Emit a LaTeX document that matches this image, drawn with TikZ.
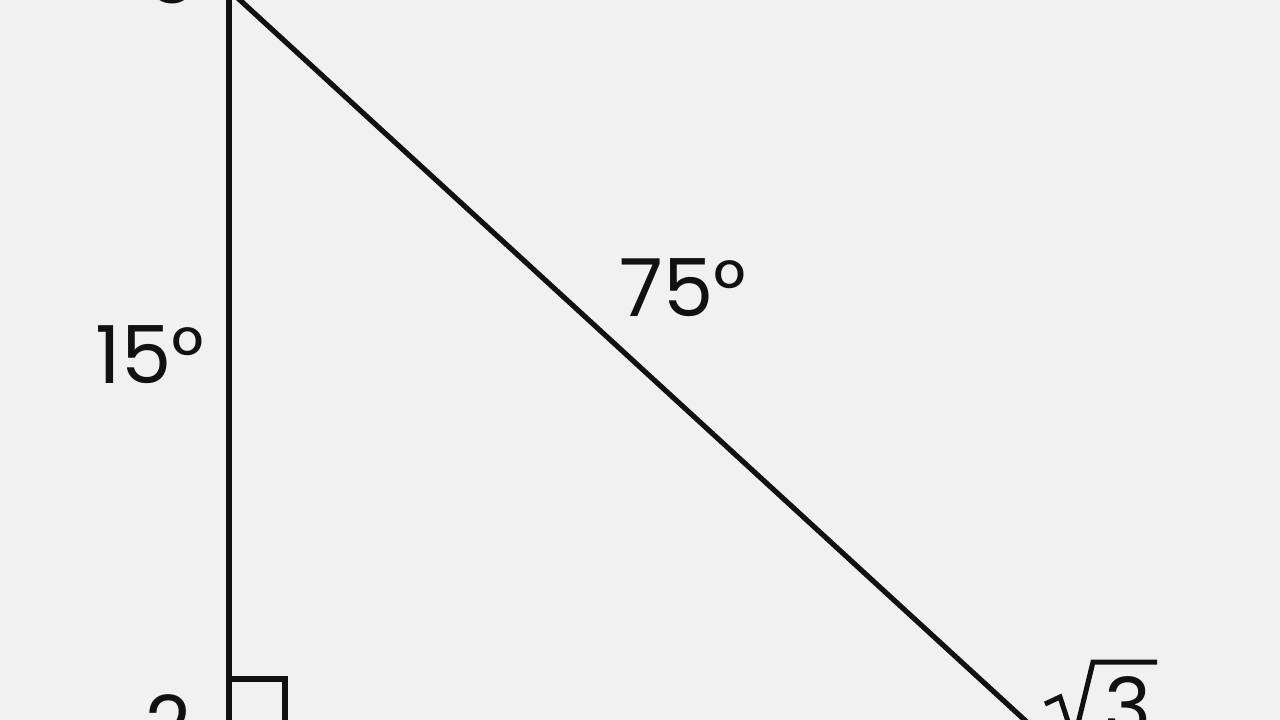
\documentclass[tikz,border=0pt]{standalone}
\usepackage{fontspec}
\setmainfont{Poppins}
\definecolor{bg}{HTML}{F1F1F1}
\definecolor{ink}{HTML}{111111}
\tikzset{
  edge/.style={draw=ink, line width=5.2pt, line cap=butt, line join=miter},
  rad/.style={draw=ink, line width=5pt, line cap=butt, line join=miter},
  lbl/.style={text=ink, font=\fontsize{80}{96}\selectfont, inner sep=0pt},
}
\begin{document}
\begin{tikzpicture}[x=1pt,y=-1pt]
\fill[bg] (0,0) rectangle (1280,720);
\useasboundingbox (0,0) rectangle (1280,720);
\begin{scope}
\clip (0,0) rectangle (1280,720);
\coordinate (A) at (229,-10);
\coordinate (C) at (229,735);
\coordinate (B) at (1041,735);
\draw[edge] (A) -- (C);
\draw[edge] (A) -- (B);
\draw[edge] (229,679) -- (285,679) -- (285,740);
\node[lbl] (ltop) at (172,-26) {3};
\node[lbl] (l15) at (150,355) {15°};
\node[lbl] (l75) at (683,288) {75°};
\node[lbl] (l2) at (168,724) {2};
% radical sign
\coordinate (r0) at (1045,704);
\coordinate (r1) at (1060,697);
\coordinate (r2) at (1074,740);
\coordinate (r3) at (1093,662);
\coordinate (r4) at (1157,662);
\draw[rad] (r0) -- (r1) -- (r2) -- (r3) -- (r4);
\node[lbl, anchor=north] (lr3) at (1128,676) {3};
\end{scope}
\end{tikzpicture}
\end{document}
